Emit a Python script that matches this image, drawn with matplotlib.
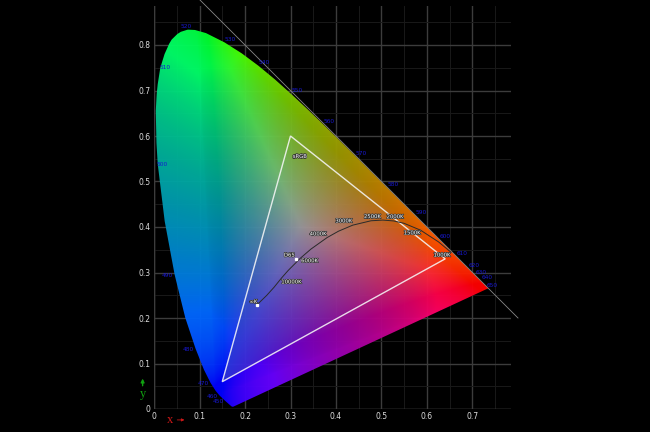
import numpy as np
import matplotlib
matplotlib.use('Agg')
import matplotlib.pyplot as plt
import matplotlib.patheffects as pe
from matplotlib.patches import Polygon

# spectral locus, CIE 1931
wavelength = [380, 420, 430, 440, 450, 460, 465, 470, 475, 480, 485, 490, 495, 500, 502, 505, 507, 508, 510, 512,
              514, 515, 517, 518, 520, 522, 525, 530, 535, 540, 545, 550, 555, 560, 565, 570, 575, 580, 585, 590,
              595, 600, 605, 610, 620, 630, 640, 650, 660, 700]
locus_x = [.1741, .1714, .1689, .1644, .1566, .1440, .1355, .1241, .1096, .0913, .0687, .0454, .0235, .0082, .0054,
           .0039, .0059, .0082, .0139, .0232, .0335, .0389, .0514, .0590, .0743, .0900, .1142, .1547, .1929, .2296,
           .2658, .3016, .3373, .3731, .4087, .4441, .4788, .5125, .5448, .5752, .6029, .6270, .6482, .6658, .6915,
           .7079, .7190, .7260, .7300, .7347]
locus_y = [.0050, .0051, .0069, .0109, .0177, .0297, .0399, .0578, .0868, .1327, .2007, .2950, .4127, .5384, .5848,
           .6548, .6920, .7140, .7502, .7800, .8030, .8120, .8242, .8290, .8338, .8330, .8262, .8059, .7816, .7543,
           .7243, .6923, .6589, .6245, .5896, .5547, .5202, .4866, .4544, .4242, .3965, .3725, .3514, .3340, .3083,
           .2920, .2809, .2740, .2700, .2653]
labelled_nm = [450, 460, 470, 480, 490, 500, 510, 520, 530, 540, 550, 560, 570, 580, 590, 600, 610, 620, 630, 640, 650]

srgb_x = [.64, .30, .15]
srgb_y = [.33, .60, .06]

# planckian locus
planck_x = [.6528, .6251, .5857, .5496, .5267, .5028, .4770, .4369, .4053, .3805, .3451, .3221, .2952, .2807, .2637, .2480, .226]
planck_y = [.3444, .3674, .3931, .4081, .4133, .4152, .4137, .4041, .3907, .3768, .3516, .3318, .3048, .2884, .2674, .2500, .2286]
cct_labels = ['1000K', '1500K', '2000K', '2500K', '3000K', '4000K', '6000K', '10000K']
cct_x = [.6528, .5857, .5267, .4770, .4369, .3805, .3221, .2807]
cct_y = [.3444, .3931, .4133, .4137, .4041, .3768, .3318, .2884]
d65 = (.3127, .329)
inf_point = (.226, .2286)

x_ticks = [0, .1, .2, .3, .4, .5, .6, .7]
y_ticks = [0, .1, .2, .3, .4, .5, .6, .7, .8]

# corners of the colour ramp
ramp_r = (.74, .26)
ramp_g = (.09, .92)
ramp_b = (.135, .03)


def barycentric(x, y, p0, p1, p2):
    m = np.array([[p0[0], p1[0], p2[0]],
                  [p0[1], p1[1], p2[1]],
                  [1, 1, 1]])
    pts = np.dstack([x, y, np.ones_like(x)])
    return pts @ np.linalg.inv(m).T


def gamut_image(n=700):
    xs = np.linspace(0, .75, n)
    ys = np.linspace(0, .85, n)
    x, y = np.meshgrid(xs, ys)
    w = np.clip(barycentric(x, y, ramp_r, ramp_g, ramp_b), 0, None)
    w = w / np.maximum(w.sum(axis=2, keepdims=True), 1e-6)
    c = w ** (1 / 2.2)
    mean = c.mean(axis=2, keepdims=True)
    rgb = mean + (c - mean) * 1.8
    # take the edge mixes (yellow, teal, magenta) down a bit
    p = w[..., 0] * w[..., 1] + w[..., 1] * w[..., 2] + w[..., 0] * w[..., 2]
    rgb = rgb * (1 - 1.2 * p * (1 - 3 * w.min(axis=2)))[..., None]
    # the inside of the sRGB triangle goes dull toward its blue corner
    s = barycentric(x, y, (srgb_x[0], srgb_y[0]), (srgb_x[1], srgb_y[1]), (srgb_x[2], srgb_y[2]))
    inside = (s.min(axis=2) >= 0)
    t = np.where(inside, np.clip(s[..., 2], 0, 1) ** 3 * .65, 0)[..., None]
    rgb = rgb * (1 - t) + np.array([.27, .31, .63]) * t
    return np.clip(rgb, 0, 1)


fig = plt.figure(figsize=(6.5, 4.32), dpi=100, facecolor='black')
ax = fig.add_axes([154 / 650, 23 / 432, 357 / 650, 403 / 432], facecolor='black')
ax.set_xlim(0, 357 / 455)
ax.set_ylim(0, 403 / 455)

ax.set_xticks(x_ticks)
ax.set_yticks(y_ticks)
ax.set_xticklabels(['0' if v == 0 else f'{v:.1f}' for v in x_ticks])
ax.set_yticklabels(['0' if v == 0 else f'{v:.1f}' for v in y_ticks])
ax.set_xticks(np.arange(.05, .8, .1), minor=True)
ax.set_yticks(np.arange(.05, .88, .1), minor=True)
ax.tick_params(which='both', length=0)
ax.tick_params(labelsize=5.5, labelcolor='#dddddd', pad=2.5)
ax.grid(which='major', color='#3c3c3c', lw=1)
ax.grid(which='minor', color='#191919', lw=.7)
ax.set_axisbelow(True)
for s in ax.spines.values():
    s.set_visible(False)
ax.axvline(0, color='#3c3c3c', lw=1)
ax.axhline(0, color='#3c3c3c', lw=1)

im = ax.imshow(gamut_image(), origin='lower', extent=(0, .75, 0, .85), aspect='auto', zorder=2, alpha=.96,
               interpolation='bilinear')
clip = Polygon(np.column_stack([locus_x, locus_y]), closed=True, transform=ax.transData, fc='none', ec='none')
ax.add_patch(clip)
im.set_clip_path(clip)

# x + y = 1 line
ax.plot([.1, .8], [.9, .2], color='#888888', lw=.6, zorder=3, clip_on=False)

ax.add_patch(Polygon(np.column_stack([srgb_x, srgb_y]), closed=True, fc='none', ec='#f6f6f6', lw=1, alpha=.88, zorder=4))
ax.plot(planck_x, planck_y, color='#2a2a2a', lw=.7, zorder=5)
ax.plot(*zip(d65, inf_point), ls='none', marker='s', ms=1.4, color='white', zorder=6)

for nm in labelled_nm:
    i = wavelength.index(nm)
    if nm < 500:
        off = (-5, -.5)
    elif nm < 520:
        off = (3.5, 0)
    elif nm == 520:
        off = (-1.5, 2.5)
    elif nm == 650:
        off = (6, -1)
    else:
        off = (4, 2.3)
    ax.annotate(str(nm), (locus_x[i], locus_y[i]), xytext=off, textcoords='offset points', color='#1818d0',
                fontsize=4.2, ha='center', va='center', zorder=6, annotation_clip=False)

outline = [pe.withStroke(linewidth=1, foreground='#333333')]
cct_off = [(-6.5, -2), (-6, -2), (1, 3), (1, 3), (-6.5, 3), (-6.5, 2.6), (6.5, -2), (7, -3)]
for name, cx, cy, off in zip(cct_labels, cct_x, cct_y, cct_off):
    ax.annotate(name, (cx, cy), xytext=off, textcoords='offset points', color='white', fontsize=3.8,
                ha='center', va='center', zorder=7, path_effects=outline)
ax.annotate('D65', d65, xytext=(-5, 3), textcoords='offset points', color='white', fontsize=3.8,
            ha='center', va='center', zorder=7, path_effects=outline)
ax.annotate('\u221eK', inf_point, xytext=(-2.5, 2.3), textcoords='offset points', color='white', fontsize=3.8,
            ha='center', va='center', zorder=7, path_effects=outline)
ax.text(.305, .555, 'sRGB', color='white', fontsize=3.8, ha='left', va='center', zorder=7, path_effects=outline)

# axis names with little arrows below the plot
ax.text(.035, -.024, 'x', color='#d01818', fontsize=9, family='Liberation Serif', ha='center', va='center', clip_on=False)
ax.annotate('', xy=(.073, -.024), xytext=(.045, -.024), annotation_clip=False,
            arrowprops=dict(arrowstyle='-|>', color='#d01818', lw=.6, mutation_scale=4))
ax.text(-.025, .033, 'y', color='#10a010', fontsize=9, family='Liberation Serif', ha='center', va='center', clip_on=False)
ax.annotate('', xy=(-.025, .073), xytext=(-.025, .045), annotation_clip=False,
            arrowprops=dict(arrowstyle='-|>', color='#10a010', lw=1, mutation_scale=5))

fig.savefig('out.png', dpi=100, facecolor='black')
